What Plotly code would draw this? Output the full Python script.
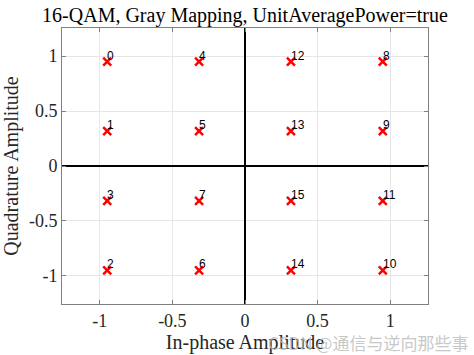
import numpy as np
import plotly.graph_objects as go

# Constellation points (unit average power 16-QAM, Gray mapping)
i_vals = [-0.9487, -0.9487, -0.9487, -0.9487,
          -0.3162, -0.3162, -0.3162, -0.3162,
          0.9487, 0.9487, 0.9487, 0.9487,
          0.3162, 0.3162, 0.3162, 0.3162]
q_vals = [0.9487, 0.3162, -0.9487, -0.3162,
          0.9487, 0.3162, -0.9487, -0.3162,
          0.9487, 0.3162, -0.9487, -0.3162,
          0.9487, 0.3162, -0.9487, -0.3162]
symbol_labels = [str(k) for k in range(16)]
tick_vals = [-1, -0.5, 0, 0.5, 1]
tick_text = ["-1", "-0.5", "0", "0.5", "1"]

SERIF = "Liberation Serif, Times New Roman, serif"

fig = go.Figure()
fig.add_trace(go.Scatter(
    x=i_vals, y=q_vals, mode="markers",
    marker=dict(symbol="x-thin", size=8, color="red",
                line=dict(color="red", width=2.5)),
    showlegend=False, hoverinfo="skip"))

for x, y, t in zip(i_vals, q_vals, symbol_labels):
    fig.add_annotation(x=x, y=y, text=t, showarrow=False,
                       xanchor="left", yanchor="bottom", xshift=-2, yshift=-3,
                       font=dict(family="Liberation Sans, Arial", size=12, color="black"))

axis_common = dict(
    automargin=False,
    showgrid=True, gridcolor="#e6e6e6", gridwidth=1,
    zeroline=True, zerolinecolor="black", zerolinewidth=2,
    showline=True, linecolor="#808080", linewidth=1, mirror="ticks",
    ticks="inside", ticklen=4, tickcolor="#808080",
    tickvals=tick_vals, ticktext=tick_text,
    tickfont=dict(family=SERIF, size=18, color="#262626"),
)

fig.update_layout(
    width=474, height=355,
    margin=dict(l=62, r=46, t=28, b=51),
    paper_bgcolor="white", plot_bgcolor="white",
    title=dict(text="16-QAM, Gray Mapping, UnitAveragePower=true",
               x=0.5, xref="paper", xanchor="center",
               y=1 - 15 / 355, yref="container", yanchor="middle",
               font=dict(family=SERIF, size=20, color="black")),
    xaxis=dict(range=[-1.26, 1.26],
               title=dict(text="In-phase Amplitude", standoff=3,
                          font=dict(family=SERIF, size=20, color="#262626")),
               **axis_common),
    yaxis=dict(range=[-1.255, 1.255],
               title=dict(text="Quadrature Amplitude", standoff=6,
                          font=dict(family=SERIF, size=20, color="#262626")),
               **axis_common),
)

fig.add_annotation(x=1.115, y=-0.141, xref="paper", yref="paper",
                   text="CSDN @通信与逆向那些事", showarrow=False, xanchor="right", yanchor="middle",
                   font=dict(family="Noto Sans CJK SC", size=17, color="rgba(185,185,185,0.8)"))

fig.write_html("out.html", config={"displayModeBar": False},
               post_script="document.body.style.margin='0px';document.body.style.overflow='hidden';")
